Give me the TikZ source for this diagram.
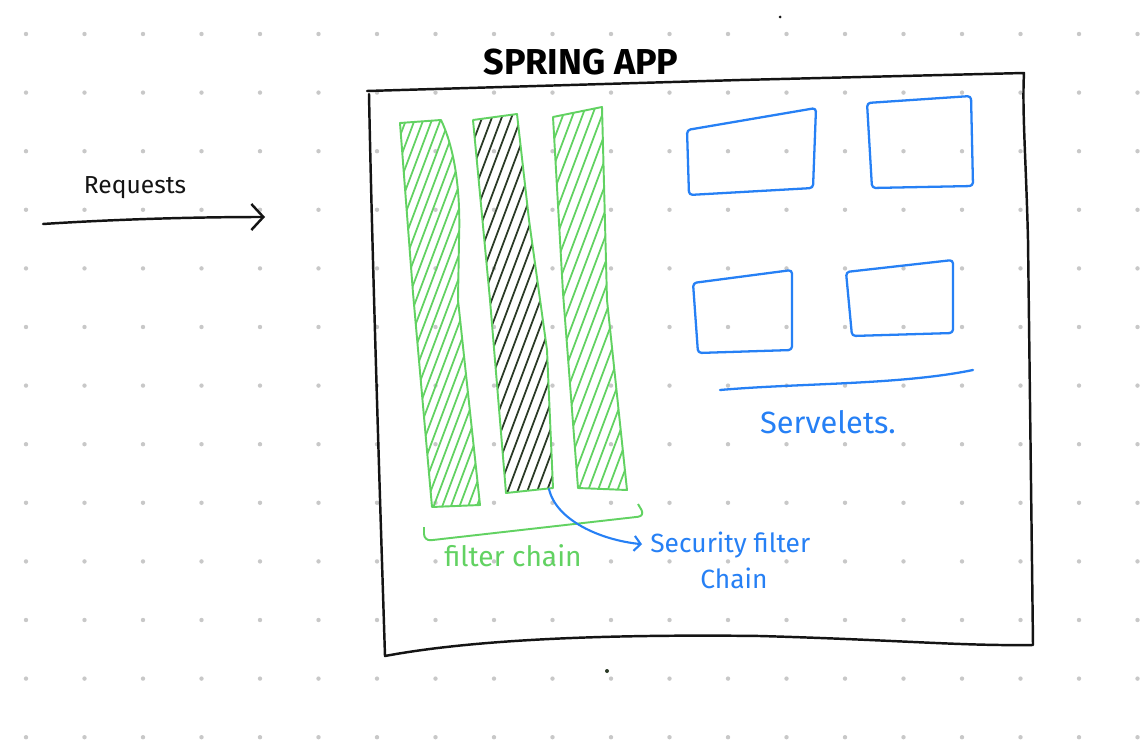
\documentclass[tikz,border=0pt]{standalone}
\usepackage{fontspec}
\setmainfont{Fira Sans}
\usetikzlibrary{arrows.meta}

\definecolor{dotgray}{RGB}{200,200,200}
\definecolor{penbk}{RGB}{20,20,20}
\definecolor{pengr}{RGB}{98,210,98}
\definecolor{pendk}{RGB}{42,58,38}
\definecolor{penbu}{RGB}{38,128,245}

\tikzset{
  frameline/.style={penbk, line width=1.4pt, line cap=round, line join=round},
  barline/.style={pengr, line width=1.1pt, line join=round, rounded corners=5pt},
  hatchline/.style={line width=1pt, line cap=round},
  boxline/.style={penbu, line width=1.3pt, line cap=round, line join=round, rounded corners=2pt},
  note/.style={inner sep=0pt, font=\fontsize{15}{19}\selectfont}
}

\begin{document}
\begin{tikzpicture}[x=0.02cm,y=-0.02cm]
\useasboundingbox (0,0) rectangle (1142,743);
\fill[white] (0,0) rectangle (1142,743);

% dot grid
\foreach \i in {0,...,19}
  \foreach \j in {0,...,12}
    \fill[dotgray] (26+58.5*\i, 34+58.6*\j) circle [radius=2.2];

% the app
\draw[frameline] (367,91) -- (740,80) -- (1024,73)
  .. controls (1022,110) and (1026,160) .. (1028,240) -- (1033,645)
  .. controls (960,646) and (900,640) .. (760,636)
  .. controls (600,634) and (470,640) .. (385,656)
  .. controls (380,500) and (372,250) .. (369,94);
\node[font=\bfseries\fontsize{20.5}{24}\selectfont, inner sep=0pt] (apptitle) at (581,62) {SPRING APP};

% requests
\coordinate (reqfrom) at (43,224);
\coordinate (reqto) at (265,217);
\node[note, penbk, font=\fontsize{14}{17}\selectfont] (reqlabel) at (135,188) {Requests};
\draw[frameline, -{Straight Barb[length=0.24cm,width=0.52cm]}]
  (reqfrom) .. controls (120,219) and (200,217) .. (reqto);

% filter chain
\path[save path=\barone] (400,123) -- (441,120)
  .. controls (453,145) and (461,185) .. (459,240) -- (458,300)
  -- (480,505) -- (432,507) -- (413,293) -- cycle;
\path[save path=\bartwo] (473,120) -- (517,114) -- (529,220) -- (547,350)
  -- (553,488) -- (506,493) -- (490,300) -- cycle;
\path[save path=\barthree] (553,117) -- (602,107) -- (607,300) -- (627,490)
  -- (578,488) -- (563,293) -- cycle;

\begin{scope}
  \clip[use path=\barone];
  \foreach \y in {130,153,...,800}
    \draw[hatchline, pengr] (385,\y) -- ++(120,-320);
\end{scope}
\begin{scope}
  \clip[use path=\bartwo];
  \foreach \y in {130,156,...,800}
    \draw[hatchline, pendk] (458,\y) -- ++(120,-320);
\end{scope}
\begin{scope}
  \clip[use path=\barthree];
  \foreach \y in {130,156,...,800}
    \draw[hatchline, pengr] (538,\y) -- ++(120,-320);
\end{scope}
\draw[barline, use path=\barone];
\draw[barline, use path=\bartwo];
\draw[barline, use path=\barthree];

\draw[barline, rounded corners=4pt] (424,527) -- (424,541) -- (645,516) -- (638,504);
\node[note, pengr, font=\fontsize{16}{19}\selectfont] (chainlabel) at (513,556) {filter chain};

% security filter chain
\coordinate (secstart) at (549,489);
\node[note, penbu, anchor=west, font=\fontsize{15}{18}\selectfont] (secline) at (650,545) {Security filter};
\node[note, penbu, font=\fontsize{15}{18}\selectfont] (chainline) at (734,578) {Chain};
\draw[penbu, line width=1.2pt, line cap=round, shorten >=0.16cm,
      -{Straight Barb[length=0.13cm,width=0.3cm]}]
  (secstart) .. controls (556,520) and (600,540) .. (secline.west);

% servlets
\draw[boxline] (687,130) -- (816,108) -- (813,188) -- (689,195) -- cycle;
\draw[boxline] (867,103) -- (971,96) -- (973,186) -- (872,188) -- cycle;
\draw[boxline] (693,283) -- (792,270) -- (792,350) -- (698,353) -- cycle;
\draw[boxline] (846,272) -- (953,260) -- (953,333) -- (852,336) -- cycle;
\draw[boxline] (720,390) .. controls (800,383) and (900,385) .. (973,370);
\node[note, penbu, font=\fontsize{17.5}{21}\selectfont] (servlabel) at (828,422) {Servelets.};

% stray marks
\fill[penbk] (780,17) circle [radius=1.5];
\fill[pendk] (607,671) circle [radius=2];
\end{tikzpicture}
\end{document}
